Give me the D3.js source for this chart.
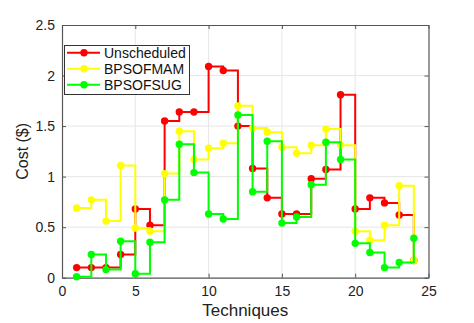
<!DOCTYPE html>
<html><head><meta charset="utf-8">
<script src="https://cdn.jsdelivr.net/npm/d3@7"></script>
<style>body{margin:0;background:#fff}svg{display:block}text{font-family:"Liberation Sans",Arial,sans-serif}</style>
</head><body>
<svg id="c" width="474" height="323"></svg>
<script>
const xs = d3.range(1, 25);
const unscheduled = [0.10,0.10,0.10,0.23,0.68,0.52,1.55,1.64,1.64,2.09,2.05,1.50,1.08,0.79,0.63,0.63,0.98,1.07,1.81,0.68,0.79,0.74,0.62,0.17];
const bpsofmam    = [0.69,0.77,0.56,1.11,0.49,0.46,1.03,1.45,1.17,1.28,1.33,1.70,1.48,1.44,1.29,1.23,1.31,1.47,1.31,0.46,0.37,0.52,0.91,0.17];
const bpsofsug    = [0.01,0.23,0.08,0.36,0.04,0.35,0.77,1.32,1.04,0.63,0.58,1.61,0.85,1.35,0.54,0.60,0.92,1.34,1.17,0.34,0.25,0.10,0.15,0.39];
const seriesNames = ["Unscheduled","BPSOFMAM","BPSOFSUG"];
const seriesColors = ["#ff0000","#ffff00","#00ff00"];
const xTicks = [0,5,10,15,20,25];
const yTicks = [0,0.5,1,1.5,2,2.5];

const svg = d3.select("#c");
const L=62,R=428.5,T=25,B=277.7;
const x = d3.scaleLinear().domain([0,25]).range([L,R]);
const y = d3.scaleLinear().domain([0,2.5]).range([B,T]);

// grid
svg.append("g").selectAll("line").data(xTicks.slice(1,-1)).join("line")
  .attr("x1",d=>x(d)).attr("x2",d=>x(d)).attr("y1",T).attr("y2",B)
  .attr("stroke","#e6e6e6").attr("stroke-width",1);
svg.append("g").selectAll("line").data(yTicks.slice(1,-1)).join("line")
  .attr("y1",d=>y(d)).attr("y2",d=>y(d)).attr("x1",L).attr("x2",R)
  .attr("stroke","#e6e6e6").attr("stroke-width",1);

// axes
const axCol="#555";
const xAxis = svg.append("g").attr("transform",`translate(0,${B})`)
  .call(d3.axisBottom(x).tickValues(xTicks).tickSizeInner(-4).tickSizeOuter(0).tickPadding(8));
const xAxisTop = svg.append("g").attr("transform",`translate(0,${T})`)
  .call(d3.axisTop(x).tickValues(xTicks).tickSizeInner(-4).tickSizeOuter(0).tickFormat(""));
const yAxis = svg.append("g").attr("transform",`translate(${L},0)`)
  .call(d3.axisLeft(y).tickValues(yTicks).tickSizeInner(-4).tickSizeOuter(0).tickPadding(7).tickFormat(d3.format("")));
const yAxisR = svg.append("g").attr("transform",`translate(${R},0)`)
  .call(d3.axisRight(y).tickValues(yTicks).tickSizeInner(-4).tickSizeOuter(0).tickFormat(""));
[xAxis,xAxisTop,yAxis,yAxisR].forEach(g=>{
  g.select(".domain").attr("stroke",axCol).attr("stroke-width",1.2);
  g.selectAll(".tick line").attr("stroke",axCol);
  g.selectAll("text").attr("font-size",14).attr("fill","#222").attr("font-family","Liberation Sans, Arial, sans-serif");
});

// series
const data = [unscheduled,bpsofmam,bpsofsug];
const line = d3.line().x((d,i)=>x(xs[i])).y(d=>y(d)).curve(d3.curveStepAfter);
data.forEach((vals,k)=>{
  const g = svg.append("g");
  g.append("path").attr("d",line(vals)).attr("fill","none")
    .attr("stroke",seriesColors[k]).attr("stroke-width",2);
  g.selectAll("circle").data(vals).join("circle")
    .attr("cx",(d,i)=>x(xs[i])).attr("cy",d=>y(d)).attr("r",3.7)
    .attr("fill",seriesColors[k]);
});

// labels
svg.append("text").attr("x",(L+R)/2).attr("y",316).attr("text-anchor","middle")
  .attr("font-size",17).attr("fill","#222").text("Techniques");
svg.append("text").attr("transform",`translate(28,${(T+B)/2}) rotate(-90)`)
  .attr("text-anchor","middle").attr("font-size",16).attr("fill","#222").text("Cost ($)");

// legend
const lg = svg.append("g");
lg.append("rect").attr("x",64.5).attr("y",45.5).attr("width",125).attr("height",49)
  .attr("fill","#fff").attr("stroke","#333").attr("stroke-width",1);
seriesNames.forEach((n,k)=>{
  const yy = 52.7 + k*16;
  lg.append("line").attr("x1",67).attr("x2",100).attr("y1",yy).attr("y2",yy)
    .attr("stroke",seriesColors[k]).attr("stroke-width",2);
  lg.append("circle").attr("cx",84).attr("cy",yy).attr("r",3.7).attr("fill",seriesColors[k]);
  lg.append("text").attr("x",104).attr("y",yy+5).attr("font-size",14).attr("fill","#111").text(n);
});
</script>
</body></html>
